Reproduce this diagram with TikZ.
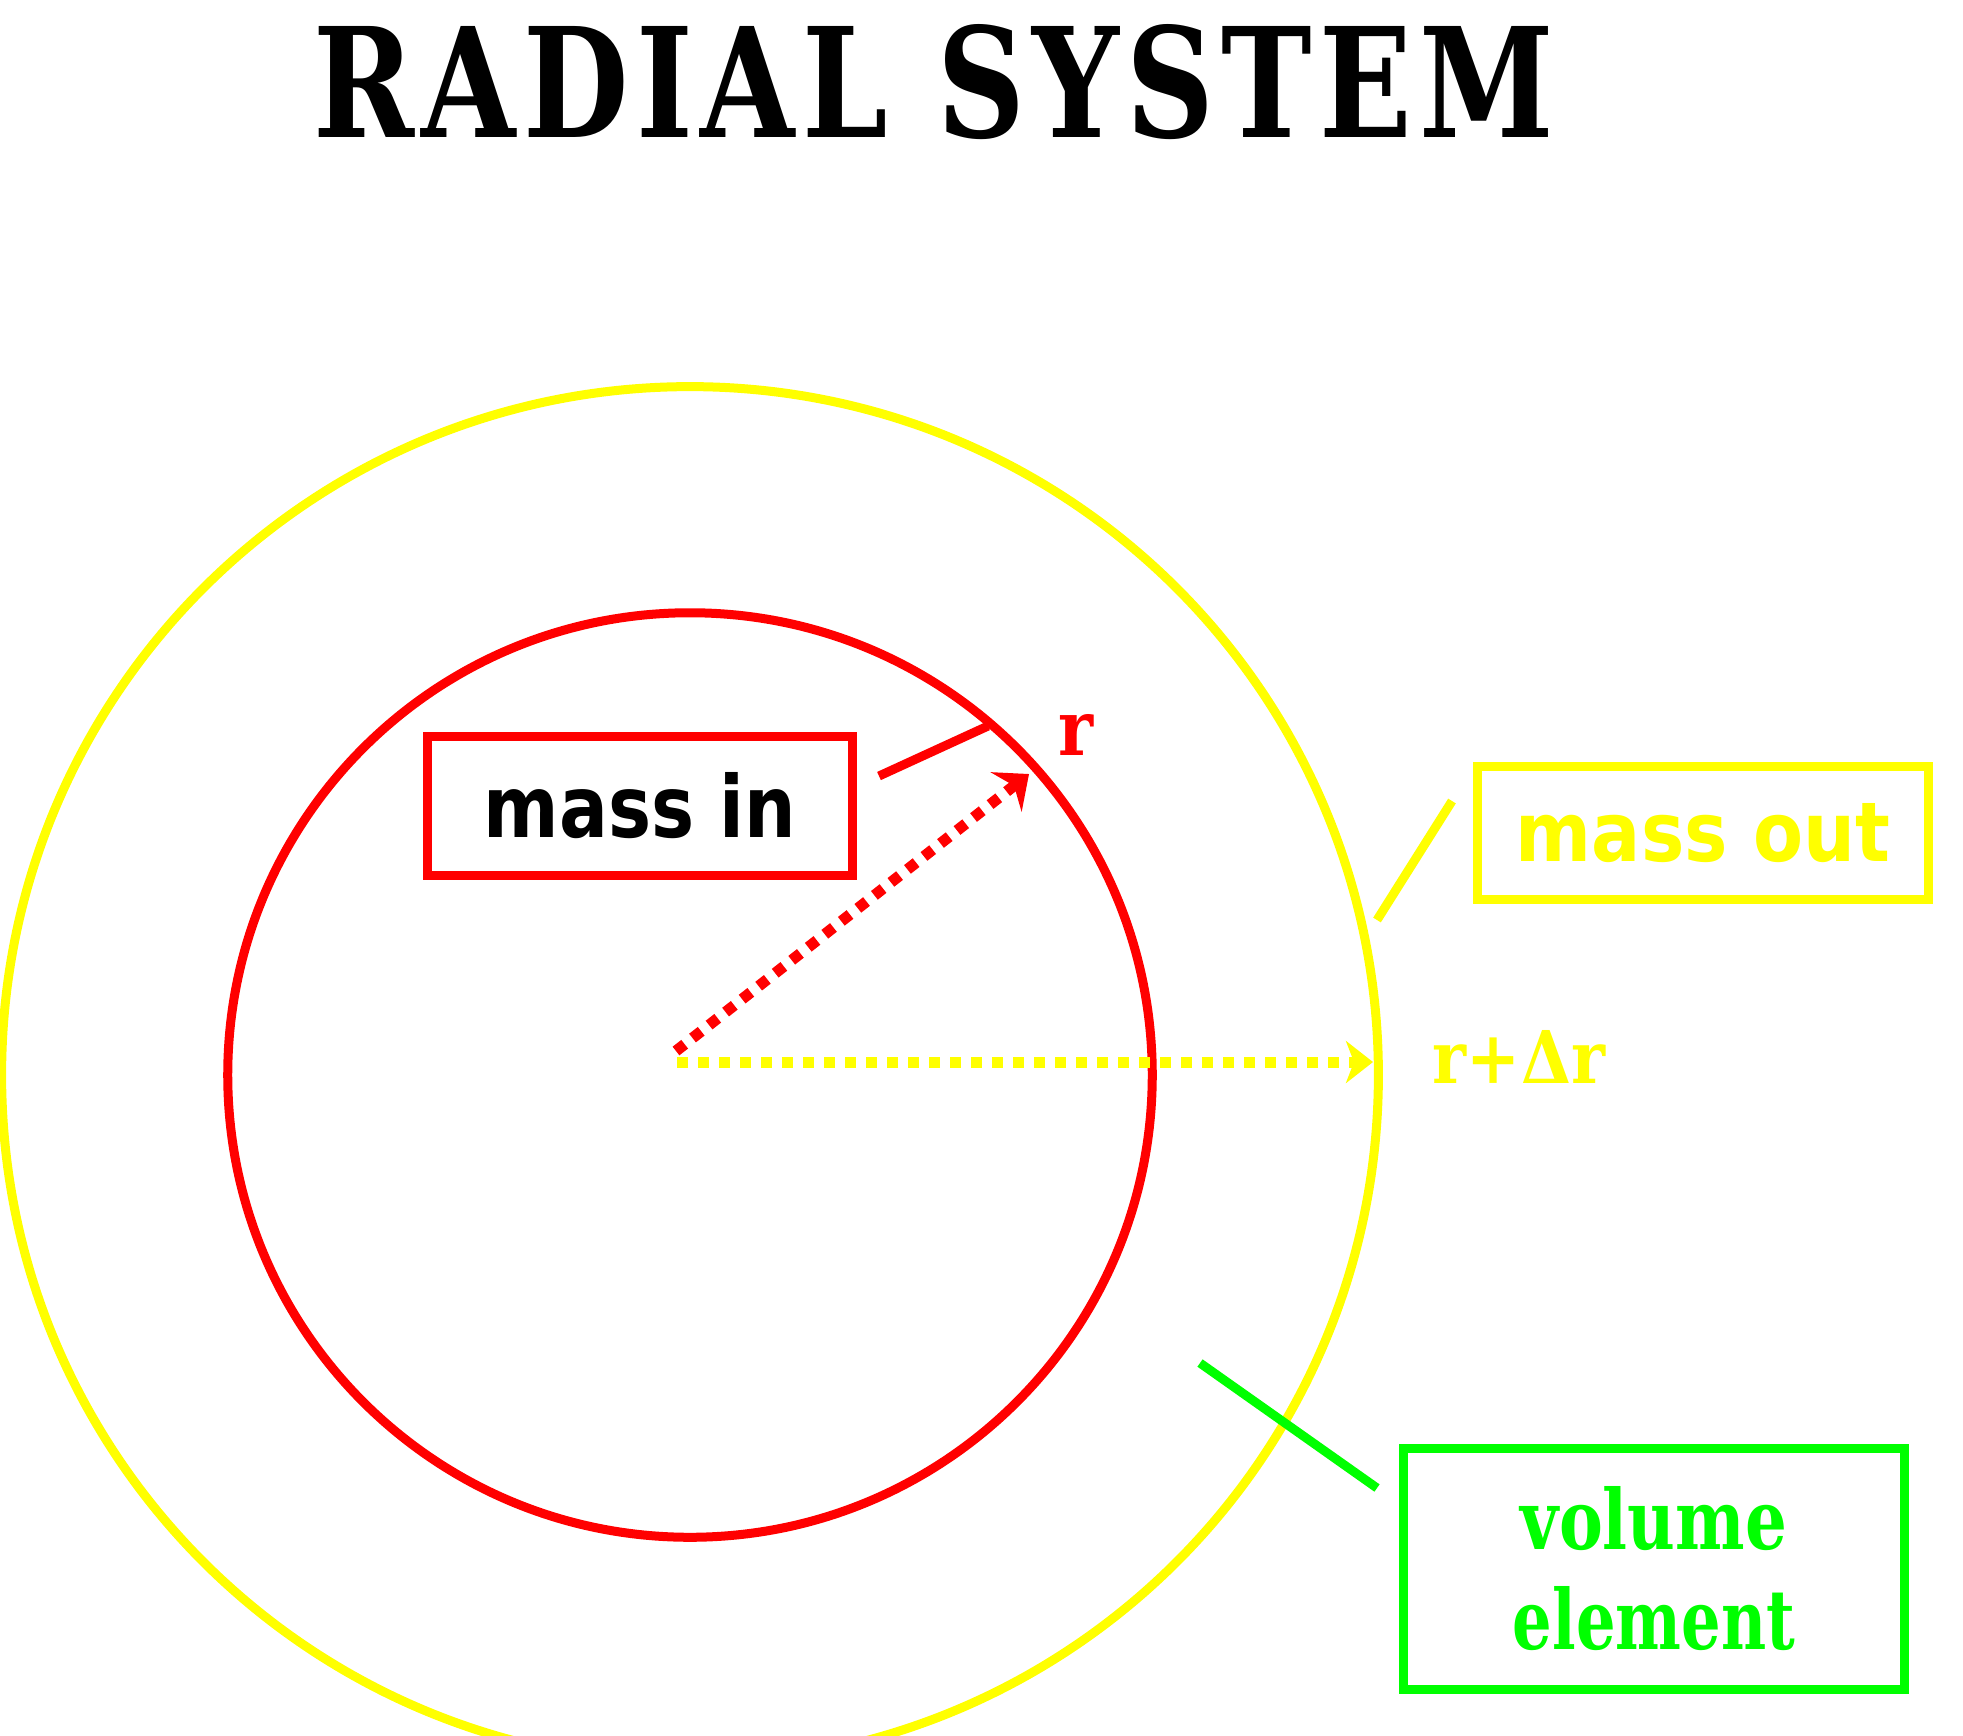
\documentclass[tikz,border=0pt]{standalone}
\usepackage{fontspec}
\usepackage{graphicx}
\usetikzlibrary{arrows.meta}
\newfontfamily\serifbold{DejaVu Serif}
\newfontfamily\headserif{DejaVu Serif}[LetterSpace=6]
\newfontfamily\sansbold{DejaVu Sans}
\definecolor{ringred}{RGB}{255,0,0}
\definecolor{ringyellow}{RGB}{255,255,0}
\definecolor{cellgreen}{RGB}{0,255,0}

\begin{document}
\begin{tikzpicture}[x=0.01cm, y=-0.01cm,
  ring/.style={draw, line width=0.09cm},
  tag/.style={rectangle, draw=#1, line width=0.09cm, inner sep=0pt, align=center},
  lead/.style={draw, line width=0.09cm},
  dots/.style={draw, line width=0.11cm, dash pattern=on 0.11cm off 0.1cm},
  word/.style={inner sep=0pt, anchor=base}]
  \useasboundingbox (0,0) rectangle (1963,1735);

  \node [word, font=\headserif\bfseries] (head) at (934,137) {\resizebox{12.4cm}{1.13cm}{RADIAL SYSTEM}};

  \coordinate (O) at (690,1075);
  \path [ring, ringyellow] (O) circle (6.88cm);
  \path [ring, ringred] (O) circle (4.62cm);

  \node [tag=ringred, minimum width=4.25cm, minimum height=1.38cm, font=\sansbold\bfseries] (massin) at (640,806) {\resizebox{3.12cm}{0.65cm}{mass in}};
  \node [tag=ringyellow, text=ringyellow, minimum width=4.5cm, minimum height=1.33cm, font=\sansbold\bfseries] (massout) at (1703,833) {\resizebox{3.74cm}{0.58cm}{mass out}};
  \node [tag=cellgreen, text=cellgreen, minimum width=5.01cm, minimum height=2.4cm, font=\serifbold\bfseries\fontsize{20}{28.45}\selectfont] (volel) at (1654,1569) {\resizebox{2.66cm}{0.63cm}{volume}\\\resizebox{2.82cm}{0.63cm}{element}};

  \node [word, text=ringred, font=\serifbold\bfseries] (rlab) at (1076,755) {\resizebox{0.35cm}{0.41cm}{r}};
  \node [word, text=ringyellow, font=\serifbold\bfseries] (drlab) at (1519,1083) {\resizebox{1.72cm}{0.53cm}{r+Δr}};

  \coordinate (inA) at (879,776);
  \coordinate (inB) at (988,726);
  \coordinate (outA) at (1377,920);
  \coordinate (outB) at (1452,801);
  \coordinate (volA) at (1200,1363);
  \coordinate (volB) at (1377,1488);
  \coordinate (rfoot) at (676,1051);
  \coordinate (rtip) at (1029,774);
  \coordinate (yfoot) at (677,1062);
  \coordinate (ytip) at (1373,1062);

  \path [lead, ringred] (inA) -- (inB);
  \path [lead, ringyellow] (outA) -- (outB);
  \path [lead, cellgreen] (volA) -- (volB);

  \path [dots, ringred, -{Stealth[length=0.29cm, width=0.5cm, inset=0.1cm]}] (rfoot) -- (rtip);
  \path [dots, ringyellow, -{Stealth[length=0.27cm, width=0.42cm, inset=0.08cm]}] (yfoot) -- (ytip);
\end{tikzpicture}
\end{document}
